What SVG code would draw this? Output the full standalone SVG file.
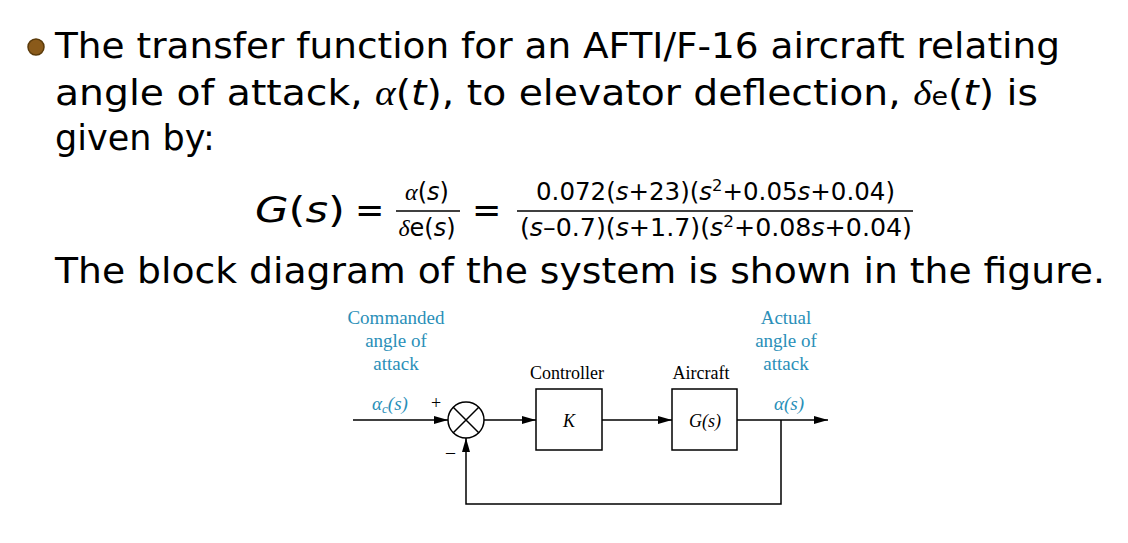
<svg xmlns="http://www.w3.org/2000/svg" width="1128" height="543" viewBox="0 0 1128 543">
<style>
.t{font-family:"DejaVu Sans",sans-serif;font-size:35px;fill:#000}
.m{font-family:"DejaVu Sans",sans-serif;font-size:24px;fill:#000}
.s{font-family:"Liberation Serif",serif;font-size:18px;fill:#000}
.b{font-family:"Liberation Serif",serif;font-size:19px;fill:#2a8fb8;text-anchor:middle}
.l{stroke:#000;stroke-width:1.5;fill:none}
</style>
<defs><marker id="a" markerWidth="14" markerHeight="8" refX="14" refY="4" orient="auto" markerUnits="userSpaceOnUse"><path d="M0,0L14,4L0,8z" fill="#000"/></marker></defs>
<rect width="1128" height="543" fill="#fff"/>
<g id="text">
<circle cx="36" cy="47" r="8" fill="#8a5a1a" stroke="#5a3a0a" stroke-width="1.5"/>
<text class="t" x="55" y="58" textLength="1005" lengthAdjust="spacingAndGlyphs">The transfer function for an AFTI/F-16 aircraft relating</text>
<text class="t" x="55" y="105" textLength="983" lengthAdjust="spacingAndGlyphs">angle of attack, <tspan font-family="Liberation Serif" font-style="italic">α</tspan>(<tspan font-style="italic">t</tspan>), to elevator deflection, <tspan font-family="Liberation Serif" font-style="italic">δ</tspan><tspan font-size="24">e</tspan>(<tspan font-style="italic">t</tspan>) is</text>
<text class="t" x="55" y="150">given by:</text>
<text class="t" x="255" y="222" textLength="90" lengthAdjust="spacingAndGlyphs"><tspan font-style="italic">G</tspan>(<tspan font-style="italic">s</tspan>)</text>
<text class="t" x="355" y="222">=</text>
<text class="m" x="427" y="200" text-anchor="middle"><tspan font-family="Liberation Serif" font-style="italic">α</tspan>(<tspan font-style="italic">s</tspan>)</text>
<line x1="396" y1="211" x2="460" y2="211" stroke="#000" stroke-width="1.3"/>
<text class="m" x="427" y="236" text-anchor="middle"><tspan font-family="Liberation Serif" font-style="italic">δ</tspan>e(<tspan font-style="italic">s</tspan>)</text>
<text class="t" x="472" y="222">=</text>
<text class="m" x="536" y="200" textLength="359" lengthAdjust="spacingAndGlyphs">0.072(<tspan font-style="italic">s</tspan>+23)(<tspan font-style="italic">s</tspan><tspan font-size="16" dy="-9">2</tspan><tspan dy="9">+0.05</tspan><tspan font-style="italic">s</tspan>+0.04)</text>
<line x1="517" y1="211" x2="913" y2="211" stroke="#000" stroke-width="1.3"/>
<text class="m" x="520" y="236" textLength="392" lengthAdjust="spacingAndGlyphs">(<tspan font-style="italic">s</tspan>–0.7)(<tspan font-style="italic">s</tspan>+1.7)(<tspan font-style="italic">s</tspan><tspan font-size="16" dy="-9">2</tspan><tspan dy="9">+0.08</tspan><tspan font-style="italic">s</tspan>+0.04)</text>
<text class="t" x="55" y="283" textLength="1050" lengthAdjust="spacingAndGlyphs">The block diagram of the system is shown in the figure.</text>
</g>
<g id="labels">
<text class="b" x="396" y="324">Commanded</text>
<text class="b" x="396" y="347">angle of</text>
<text class="b" x="396" y="370">attack</text>
<text class="b" x="786" y="324">Actual</text>
<text class="b" x="786" y="347">angle of</text>
<text class="b" x="786" y="370">attack</text>
<text class="b" x="390" y="410" font-style="italic">α<tspan font-size="13" dy="3">c</tspan><tspan dy="-3">(s)</tspan></text>
<text class="b" x="789" y="410" font-style="italic">α(s)</text>
<text class="s" x="431" y="409">+</text>
<text class="s" x="446" y="458">–</text>
</g>
<g id="sum"><circle cx="466" cy="420" r="18" class="l"/><path d="M453,407L479,433M479,407L453,433" class="l"/></g>
<g id="controller"><text class="s" x="567" y="379" text-anchor="middle">Controller</text><rect x="536" y="389" width="66" height="61" class="l" stroke-width="2"/><text class="s" x="569" y="427" text-anchor="middle" font-style="italic">K</text></g>
<g id="aircraft"><text class="s" x="701" y="379" text-anchor="middle">Aircraft</text><rect x="672" y="389" width="65" height="61" class="l" stroke-width="2"/><text class="s" x="705" y="427" text-anchor="middle" font-style="italic">G(s)</text></g>
<g id="connectors">
<line x1="353" y1="420" x2="448" y2="420" class="l" marker-end="url(#a)"/>
<line x1="484" y1="420" x2="536" y2="420" class="l" marker-end="url(#a)"/>
<line x1="602" y1="420" x2="672" y2="420" class="l" marker-end="url(#a)"/>
<line x1="737" y1="420" x2="828" y2="420" class="l" marker-end="url(#a)"/>
<path d="M781,420V504H466V438" class="l" marker-end="url(#a)"/>
</g>
</svg>
